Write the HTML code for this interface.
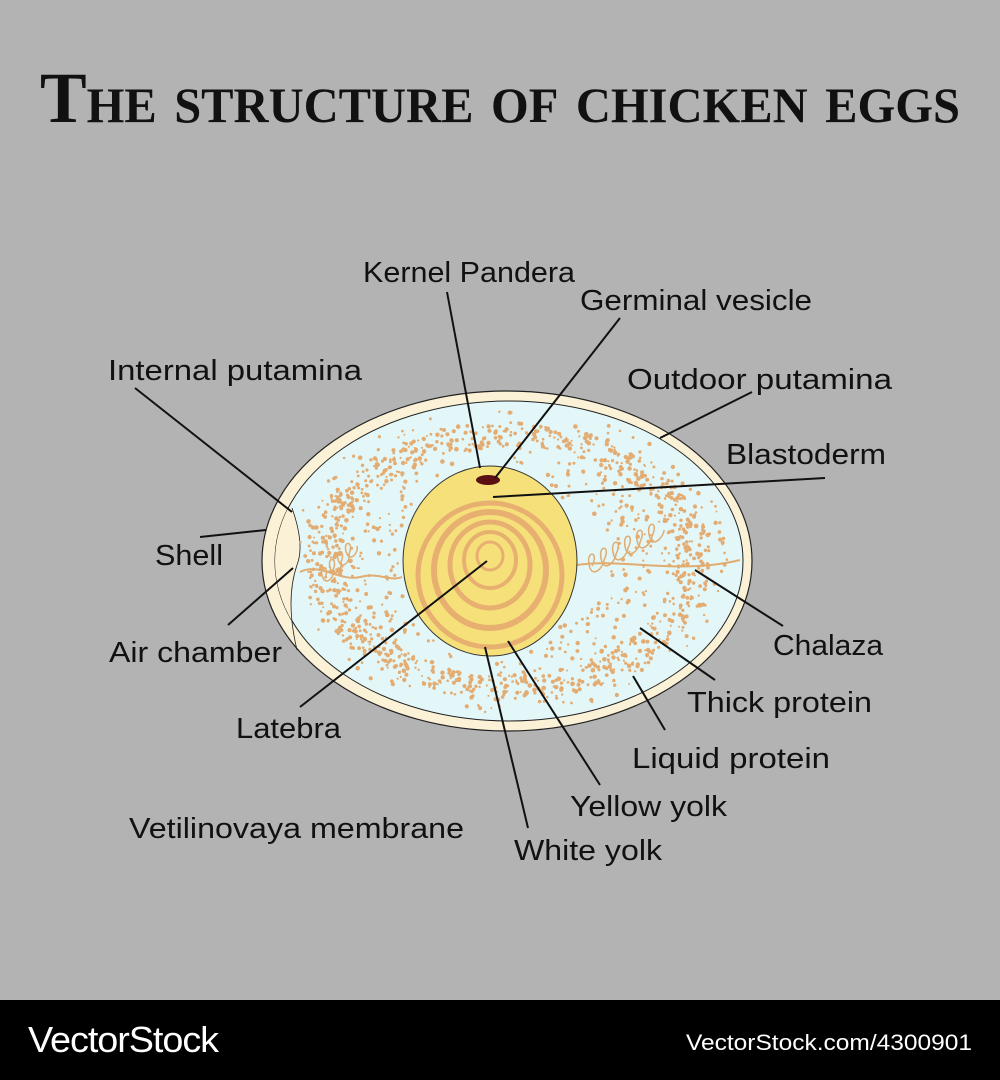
<!DOCTYPE html>
<html><head><meta charset="utf-8"><style>
html,body{margin:0;padding:0;background:#b3b3b3;}
svg{display:block}
.l{font-family:"Liberation Sans",sans-serif;font-size:29px;fill:#111}
</style></head><body>
<svg id="s" width="1000" height="1080" viewBox="0 0 1000 1080">
<defs><clipPath id="cp"><ellipse cx="509" cy="561" rx="234" ry="160"/></clipPath></defs>
<rect width="1000" height="1000" fill="#b3b3b3"/>
<text x="40" y="122" textLength="920" lengthAdjust="spacingAndGlyphs" style="font-family:'Liberation Serif',serif;font-weight:bold;font-size:72px;font-variant:small-caps" fill="#111">The structure of chicken eggs</text>
<ellipse cx="507" cy="561" rx="245" ry="170" fill="#fbf1d6" stroke="#222" stroke-width="1.2"/>
<ellipse cx="509" cy="561" rx="234" ry="160" fill="#e3f7f8" stroke="#222" stroke-width="1"/>
<path clip-path="url(#cp)" d="M292,508 Q305,545 297,565 Q285,600 297,650 L250,650 L250,508 Z" fill="#fbf1d6"/>
<path d="M292,508 Q305,545 297,565 Q285,600 297,650" fill="none" stroke="#222" stroke-width="0.8"/>
<g id="dots"></g>
<path d="M300,572 C320,562 340,582 360,577 C380,572 390,582 402,577" fill="none" stroke="#e0ac70" stroke-width="2"/>
<path d="M325,578 c6,-14 -8,-14 -2,0 c4,8 12,-2 10,-8 c6,-14 -8,-14 -2,0 c4,8 12,-2 10,-8 c6,-14 -8,-14 -2,0 c4,8 12,-2 10,-8 c6,-14 -8,-14 -2,0 c4,8 12,-2 10,-8" fill="none" stroke="#e0ac70" stroke-width="1.5"/>
<path d="M577,565 C620,558 680,575 740,560" fill="none" stroke="#e0ac70" stroke-width="2"/>
<path d="M592,566 c8,-16 -8,-16 -2,2 c4,10 14,-2 14,-8 c8,-16 -8,-16 -2,2 c4,10 14,-2 14,-8 c8,-16 -8,-16 -2,2 c4,10 14,-2 14,-8 c8,-16 -8,-16 -2,2 c4,10 14,-2 14,-8 c8,-16 -8,-16 -2,2 c4,10 14,-2 14,-8 c8,-16 -8,-16 -2,2 c4,10 14,-2 14,-8" fill="none" stroke="#e0ac70" stroke-width="1.5"/>
<ellipse cx="490" cy="561" rx="87" ry="95" fill="#f5e07a" stroke="#333" stroke-width="1"/>
<g fill="none" stroke="#e8b070" stroke-width="5">
<ellipse cx="490" cy="575" rx="72" ry="72"/>
<ellipse cx="490" cy="570" rx="56" ry="58" stroke-width="6"/>
<ellipse cx="490" cy="565" rx="40" ry="43"/>
<ellipse cx="490" cy="560" rx="26" ry="28" stroke-width="4"/>
<ellipse cx="490" cy="556" rx="13" ry="14" stroke-width="3"/>
</g>
<ellipse cx="488" cy="480" rx="12" ry="5" fill="#5a0f12"/>
<g stroke="#111" stroke-width="2">
<line x1="447" y1="292" x2="480" y2="468"/>
<line x1="620" y1="318" x2="495" y2="478"/>
<line x1="135" y1="388" x2="292" y2="512"/>
<line x1="752" y1="392" x2="660" y2="438"/>
<line x1="825" y1="478" x2="493" y2="497"/>
<line x1="200" y1="537" x2="266" y2="530"/>
<line x1="228" y1="625" x2="293" y2="568"/>
<line x1="300" y1="707" x2="487" y2="561"/>
<line x1="783" y1="626" x2="695" y2="570"/>
<line x1="715" y1="680" x2="640" y2="628"/>
<line x1="665" y1="730" x2="633" y2="676"/>
<line x1="600" y1="785" x2="508" y2="641"/>
<line x1="528" y1="828" x2="485" y2="647"/>
</g>
<g lengthAdjust="spacingAndGlyphs">
<text class="l" x="363" y="282" textLength="212" lengthAdjust="spacingAndGlyphs">Kernel Pandera</text>
<text class="l" x="580" y="310" textLength="232" lengthAdjust="spacingAndGlyphs">Germinal vesicle</text>
<text class="l" x="108" y="380" textLength="254" lengthAdjust="spacingAndGlyphs">Internal putamina</text>
<text class="l" x="627" y="389" textLength="265" lengthAdjust="spacingAndGlyphs">Outdoor putamina</text>
<text class="l" x="726" y="464" textLength="160" lengthAdjust="spacingAndGlyphs">Blastoderm</text>
<text class="l" x="155" y="565" textLength="68" lengthAdjust="spacingAndGlyphs">Shell</text>
<text class="l" x="109" y="662" textLength="173" lengthAdjust="spacingAndGlyphs">Air chamber</text>
<text class="l" x="236" y="738" textLength="105" lengthAdjust="spacingAndGlyphs">Latebra</text>
<text class="l" x="773" y="655" textLength="110" lengthAdjust="spacingAndGlyphs">Chalaza</text>
<text class="l" x="687" y="712" textLength="185" lengthAdjust="spacingAndGlyphs">Thick protein</text>
<text class="l" x="632" y="768" textLength="198" lengthAdjust="spacingAndGlyphs">Liquid protein</text>
<text class="l" x="570" y="816" textLength="157" lengthAdjust="spacingAndGlyphs">Yellow yolk</text>
<text class="l" x="514" y="860" textLength="148" lengthAdjust="spacingAndGlyphs">White yolk</text>
<text class="l" x="129" y="838" textLength="335" lengthAdjust="spacingAndGlyphs">Vetilinovaya membrane</text>
</g>
<rect y="1000" width="1000" height="80" fill="#000"/>
<text x="28" y="1052" textLength="190" lengthAdjust="spacingAndGlyphs" style="font-family:'Liberation Sans',sans-serif;font-size:36px;letter-spacing:-1px" fill="#fff">VectorStock</text>
<text x="686" y="1050" textLength="286" lengthAdjust="spacingAndGlyphs" style="font-family:'Liberation Sans',sans-serif;font-size:22px" fill="#fff">VectorStock.com/4300901</text>
</svg>
<script>
var g=document.getElementById('dots'),s=12345,h='';
function r(){s=(s*16807)%2147483647;return s/2147483647;}
for(var i=0;i<1500;i++){
 var a=r()*Math.PI*2,k;
 if(r()<0.6)k=0.8+(r()-0.5)*0.16; else k=0.45+r()*0.52;
 var x=509+Math.cos(a)*230*k,y=561+Math.sin(a)*158*k;
 var dx=(x-490)/90,dy=(y-561)/98; if(dx*dx+dy*dy<1.05)continue;
 if(x<300)continue;
 h+='<circle cx="'+x.toFixed(1)+'" cy="'+y.toFixed(1)+'" r="'+(1+r()*1.3).toFixed(1)+'" fill="#e3ac72"/>';
}
g.innerHTML=h;
</script>
</body></html>
